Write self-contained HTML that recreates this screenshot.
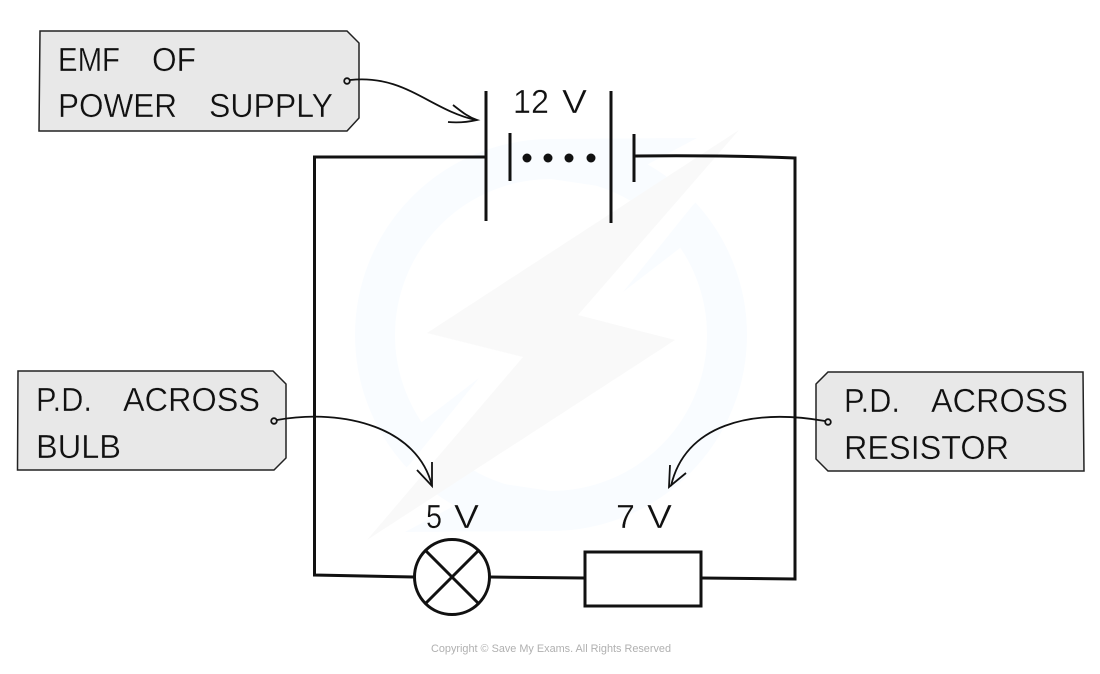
<!DOCTYPE html>
<html><head><meta charset="utf-8"><style>
html,body{margin:0;padding:0;background:#fff}
svg{display:block}
text{font-family:"Liberation Sans",sans-serif;font-size:33.5px;fill:#111;}
.g text{stroke:#e8e8e8;stroke-width:.35px}
.w text{stroke:#fff;stroke-width:.35px}
</style></head><body>
<svg width="1100" height="674" viewBox="0 0 1100 674" xmlns="http://www.w3.org/2000/svg">
<!-- watermark -->
<circle cx="551" cy="335" r="176" fill="none" stroke="#f9fcff" stroke-width="40"/>
<polygon points="551,139 697,138 605,187 551,179" fill="#f9fcff"/>
<polygon points="551,531 405,532 497,483 551,491" fill="#f9fcff"/>
<polygon points="739,130 578,315 623,292 693,205 770,130" fill="#fff"/>
<polygon points="367,540 523,357 479,378 409,465 332,540" fill="#fff"/>
<polygon points="693,205 623,292 680,248 700,215" fill="#f9fcff"/>
<polygon points="409,465 479,378 422,422 402,455" fill="#f9fcff"/>
<polygon points="739,130 427,333 523,357 367,540 675,340 578,315" fill="#f9f9f9"/>
<!-- circuit -->
<g fill="none" stroke="#111" stroke-width="3">
<path d="M486,157 L314.500,157 L314.500,575 L414,577"/>
<path d="M634,156 Q720,155 795,158 L795,579 L701,578"/>
<path d="M490,577 L584,578"/>
<rect x="585" y="552" width="116" height="54"/>
<circle cx="452" cy="577" r="37.500"/>
<path d="M425.500,550.500 L478.500,603.500 M478.500,550.500 L425.500,603.500"/>
<path d="M486,91 V221 M611,91 V223 M510,133 V181 M634,134 V182"/>
</g>
<g fill="#111"><circle cx="527" cy="158" r="4.500"/><circle cx="548" cy="158" r="4.500"/><circle cx="569" cy="158" r="4.500"/><circle cx="591" cy="158" r="4.500"/></g>
<!-- label boxes -->
<g fill="#e8e8e8" stroke="#222" stroke-width="1.500">
<polygon points="40,31 347,31 359,43 359,118 347,131 39,131"/>
<polygon points="18,371 273,371 286,384 286,458 274,470 17.500,470"/>
<polygon points="828,372 1083,372 1084,471 828,471 816,459 816,384"/>
</g>
<!-- connectors -->
<g fill="none" stroke="#111" stroke-width="1.800">
<circle cx="347" cy="81" r="2.800"/>
<circle cx="274" cy="421" r="2.800"/>
<circle cx="828" cy="422" r="2.800"/>
<path d="M350,80 C405,74 430,110 476,120"/>
<path d="M453,105 C462,112 468,117 477,120 C468,122 458,123 448,122"/>
<path d="M277,420 C345,408 418,428 432,486"/>
<path d="M417,470 L432,486 L432,462"/>
<path d="M825,421 C750,408 685,425 671,486"/>
<path d="M670,465 L669,487 L686,473"/>
</g>
<!-- labels -->
<g class="g">
<text x="58" y="71" textLength="62" lengthAdjust="spacingAndGlyphs">EMF</text>
<text x="152" y="71" textLength="44" lengthAdjust="spacingAndGlyphs">OF</text>
<text x="58" y="117" textLength="119" lengthAdjust="spacingAndGlyphs">POWER</text>
<text x="209" y="117" textLength="124" lengthAdjust="spacingAndGlyphs">SUPPLY</text>
<text x="36" y="411" textLength="56" lengthAdjust="spacingAndGlyphs">P.D.</text>
<text x="123" y="411" textLength="137" lengthAdjust="spacingAndGlyphs">ACROSS</text>
<text x="36" y="458" textLength="85" lengthAdjust="spacingAndGlyphs">BULB</text>
<text x="844" y="412" textLength="56" lengthAdjust="spacingAndGlyphs">P.D.</text>
<text x="931" y="412" textLength="137" lengthAdjust="spacingAndGlyphs">ACROSS</text>
<text x="844" y="459" textLength="165" lengthAdjust="spacingAndGlyphs">RESISTOR</text>
</g>
<g class="w">
<text x="513" y="113" textLength="36" lengthAdjust="spacingAndGlyphs">12</text>
<text x="562" y="113" textLength="25" lengthAdjust="spacingAndGlyphs">V</text>
<text x="426" y="528" textLength="16" lengthAdjust="spacingAndGlyphs">5</text>
<text x="454" y="528" textLength="25" lengthAdjust="spacingAndGlyphs">V</text>
<text x="616" y="528" textLength="19" lengthAdjust="spacingAndGlyphs">7</text>
<text x="647" y="528" textLength="25" lengthAdjust="spacingAndGlyphs">V</text>
</g>
<text x="431" y="652" textLength="240" lengthAdjust="spacingAndGlyphs" style="font-size:11px;fill:#b0b0b0">Copyright © Save My Exams. All Rights Reserved</text>
</svg>
</body></html>
